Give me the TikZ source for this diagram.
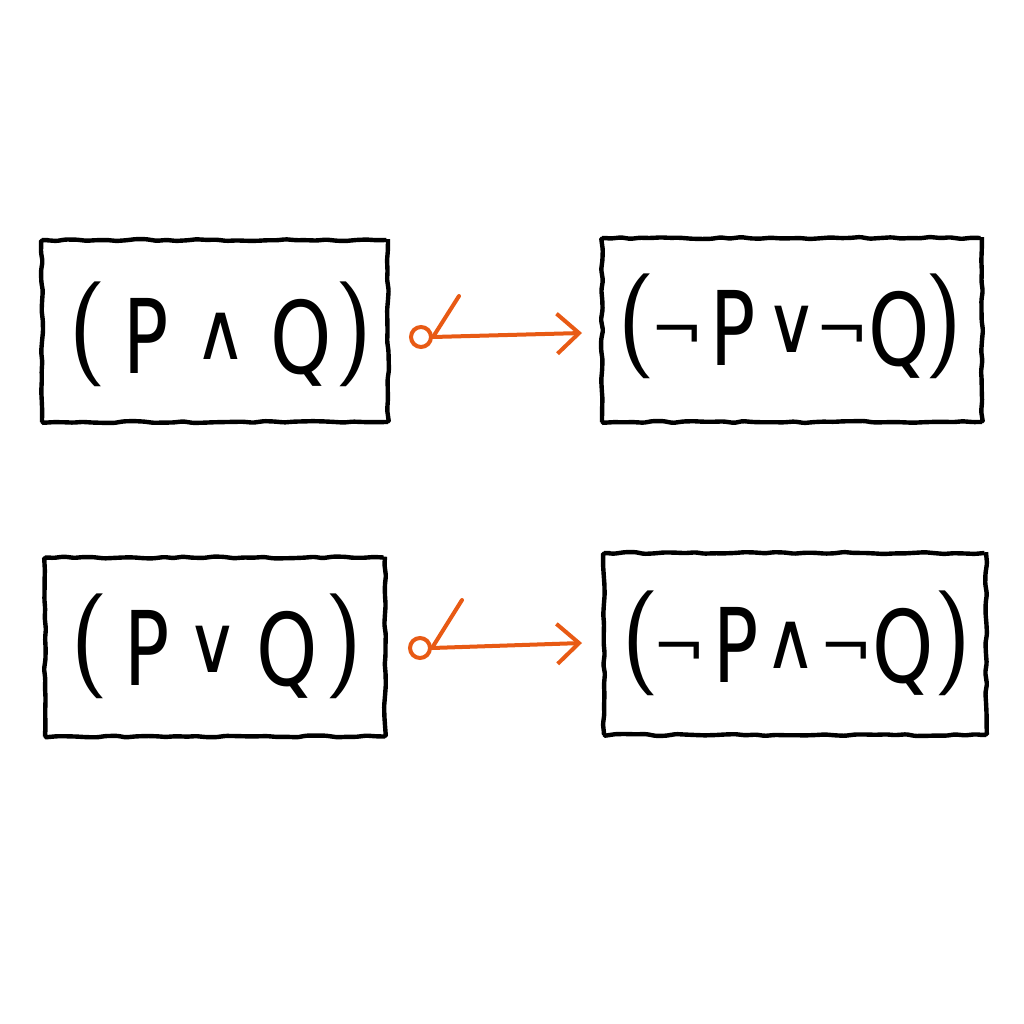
\documentclass[tikz,border=0pt]{standalone}
\usepackage{fontspec}
\usepackage{graphicx}
\setmainfont{DejaVu Sans}
\newfontfamily\lmparen{Latin Modern Sans}
\usetikzlibrary{arrows.meta,decorations.pathmorphing}
\definecolor{arrorange}{RGB}{232,90,20}
\newcommand\cellx[2]{\makebox[#1pt][c]{#2}}
\newcommand\gpar[1]{\raisebox{13pt}{\fontsize{105}{110}\lmparen #1}}
\newcommand\gP{\scalebox{0.75}[1.03]{P}}
\newcommand\gQ{\scalebox{0.78}[1]{Q}}
\newcommand\gand{\raisebox{14pt}{\scalebox{0.72}[0.8]{∧}}}
\newcommand\gor{\raisebox{13pt}{\scalebox{0.72}[0.8]{∨}}}
\newcommand\gneg{\raisebox{15pt}{\scalebox{0.64}[0.6]{¬}}}
\tikzset{
  sketchbox/.style={draw=black, line width=4.4pt, decorate,
    decoration={random steps, segment length=10pt, amplitude=1pt},
    rounded corners=1.5pt, inner sep=0pt, text depth=15pt,
    font=\fontsize{100}{110}\selectfont},
  ring/.style={circle, draw=arrorange, line width=4pt, minimum size=20pt, inner sep=0pt},
  conn/.style={draw=arrorange, line width=4pt, line cap=round,
    -{Straight Barb[length=22pt,width=40pt,line width=4pt]}},
  tick/.style={draw=arrorange, line width=4pt, line cap=round}
}
\begin{document}
\begin{tikzpicture}[x=1pt,y=-1pt]
\useasboundingbox[fill=white] (0,0) rectangle (1024,1024);
\pgfmathsetseed{7}
\node[sketchbox, minimum width=346pt, minimum height=182pt, text height=99pt] (b1) at (215,331)
  {\cellx{40}{\gpar(}\cellx{77}{\gP}\cellx{72}{\gand}\cellx{88}{\gQ}\cellx{17}{\gpar)}};
\node[sketchbox, minimum width=380pt, minimum height=184pt, text height=85pt] (b2) at (792,330)
  {\cellx{25}{\gpar(}\cellx{56}{\gneg}\cellx{57}{\gP}\cellx{60}{\gor}\cellx{41}{\gneg}\cellx{73}{\gQ}\cellx{16}{\gpar)}\hspace*{8pt}};
\node[sketchbox, minimum width=340pt, minimum height=179pt, text height=92pt] (b3) at (215,647)
  {\cellx{40}{\gpar(}\cellx{75}{\gP}\cellx{55}{\gor}\cellx{94}{\gQ}\cellx{19}{\gpar)}\hspace*{7pt}};
\node[sketchbox, minimum width=382pt, minimum height=182pt, text height=91pt] (b4) at (795,644)
  {\hspace*{16pt}\cellx{18}{\gpar(}\cellx{59}{\gneg}\cellx{55}{\gP}\cellx{53}{\gand}\cellx{59}{\gneg}\cellx{55}{\gQ}\cellx{43}{\gpar)}};
% arrows
\node[ring] (c1) at (421,337) {};
\coordinate (t1) at (459,296);
\coordinate (h1) at (582,333);
\draw[tick] (c1.east) -- (t1);
\draw[conn] (c1.east) -- (h1);
\node[ring] (c2) at (420,648) {};
\coordinate (t2) at (462,600);
\coordinate (h2) at (582,643);
\draw[tick] (c2.east) -- (t2);
\draw[conn] (c2.east) -- (h2);
\end{tikzpicture}
\end{document}
